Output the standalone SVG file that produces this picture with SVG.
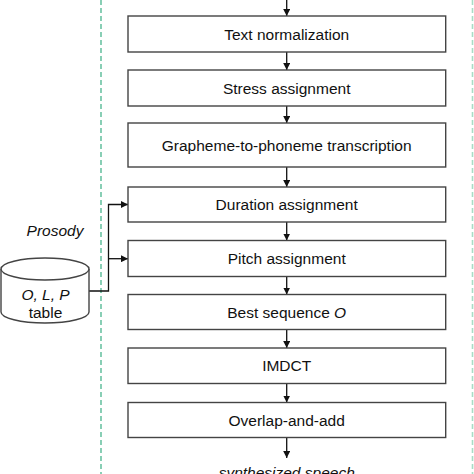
<svg xmlns="http://www.w3.org/2000/svg" width="474" height="474" viewBox="0 0 474 474">
<style>
.box{fill:#fff;stroke:#444;stroke-width:1.4}
.lbl{font-family:"Liberation Sans",Arial,sans-serif;font-size:15.5px;fill:#111;text-anchor:middle}
.it{font-style:italic}
.con{fill:none;stroke:#111;stroke-width:1.3}
.dash{stroke:#6cc3a3;stroke-width:1.6;stroke-dasharray:5 3;fill:none}
</style>
<defs>
<marker id="ah" viewBox="0 0 10 10" refX="10" refY="5" markerWidth="7" markerHeight="7" markerUnits="userSpaceOnUse" orient="auto">
<path d="M0,0 L10,5 L0,10 z" fill="#111"/>
</marker>
</defs>
<rect width="474" height="474" fill="#fff"/>
<line class="dash" x1="101" y1="0" x2="101" y2="474"/>
<line class="dash" x1="472.5" y1="0" x2="472.5" y2="474" style="stroke:#a8dcc6"/>
<g id="connectors">
<line class="con" x1="286.7" y1="0" x2="286.7" y2="16" marker-end="url(#ah)"/>
<line class="con" x1="286.7" y1="52" x2="286.7" y2="70" marker-end="url(#ah)"/>
<line class="con" x1="286.7" y1="106" x2="286.7" y2="123" marker-end="url(#ah)"/>
<line class="con" x1="286.7" y1="167" x2="286.7" y2="187" marker-end="url(#ah)"/>
<line class="con" x1="286.7" y1="222" x2="286.7" y2="240.5" marker-end="url(#ah)"/>
<line class="con" x1="286.7" y1="276.5" x2="286.7" y2="294.5" marker-end="url(#ah)"/>
<line class="con" x1="286.7" y1="329.5" x2="286.7" y2="348" marker-end="url(#ah)"/>
<line class="con" x1="286.7" y1="383.5" x2="286.7" y2="402.5" marker-end="url(#ah)"/>
<line class="con" x1="286.7" y1="437.5" x2="286.7" y2="458" marker-end="url(#ah)"/>
<path class="con" d="M89,291 H108.5 V204.5 H128" marker-end="url(#ah)"/>
<path class="con" d="M108.5,258.7 H128" marker-end="url(#ah)"/>
</g>
<g id="n1"><rect class="box" x="128" y="16" width="317.7" height="36"/><text class="lbl" x="286.7" y="39.5">Text normalization</text></g>
<g id="n2"><rect class="box" x="128" y="70" width="317.7" height="36"/><text class="lbl" x="286.7" y="93.5">Stress assignment</text></g>
<g id="n3"><rect class="box" x="128" y="123" width="317.7" height="44"/><text class="lbl" x="286.7" y="150.5">Grapheme-to-phoneme transcription</text></g>
<g id="n4"><rect class="box" x="128" y="187" width="317.7" height="35"/><text class="lbl" x="286.7" y="210">Duration assignment</text></g>
<g id="n5"><rect class="box" x="128" y="240.5" width="317.7" height="36"/><text class="lbl" x="286.7" y="264">Pitch assignment</text></g>
<g id="n6"><rect class="box" x="128" y="294.5" width="317.7" height="35"/><text class="lbl" x="286.7" y="317.5">Best sequence <tspan class="it">O</tspan></text></g>
<g id="n7"><rect class="box" x="128" y="348" width="317.7" height="35.5"/><text class="lbl" x="286.7" y="371">IMDCT</text></g>
<g id="n8"><rect class="box" x="128" y="402.5" width="317.7" height="35"/><text class="lbl" x="286.7" y="425.5">Overlap-and-add</text></g>
<g id="out"><text class="lbl it" x="286.7" y="477.5">synthesized speech</text></g>
<g id="prosody">
<text class="lbl it" x="55" y="236">Prosody</text>
<path class="box" d="M1,269 V312 A44,11 0 0 0 89,312 V269"/>
<ellipse class="box" cx="45" cy="269" rx="44" ry="11"/>
<text class="lbl it" x="45.5" y="300">O, L, P</text>
<text class="lbl" x="45.5" y="317.5">table</text>
</g>
</svg>
